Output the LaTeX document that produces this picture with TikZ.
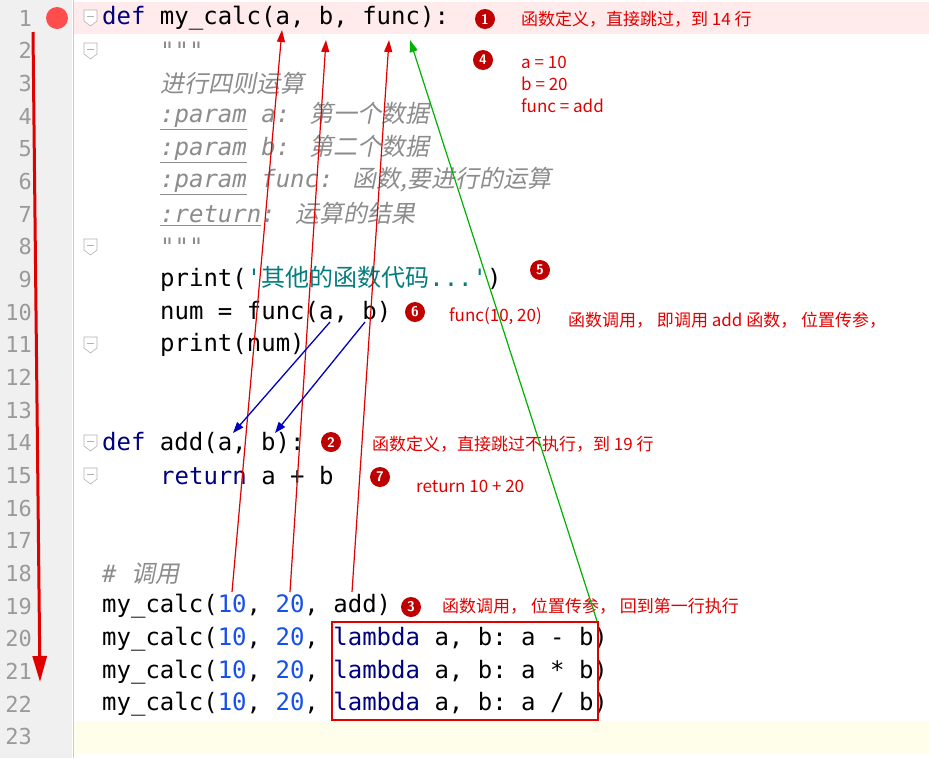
\documentclass[tikz,border=0pt]{standalone}
\usepackage{fontspec}
\setmainfont{Noto Sans CJK SC}
\setmonofont{DejaVu Sans Mono}
\newfontfamily\cjk{Noto Sans CJK SC}
\newfontfamily\cjkit{Noto Sans CJK SC}[FakeSlant=0.2]
\newfontfamily\monoit{DejaVu Sans Mono Oblique}
\usetikzlibrary{arrows.meta}
\definecolor{kw}{HTML}{000080}
\definecolor{num}{HTML}{1750EB}
\definecolor{doc}{HTML}{8C8C8C}
\definecolor{str}{HTML}{067D7D}
\definecolor{ann}{HTML}{E00000}
\definecolor{lnum}{HTML}{9A9A9A}
\newcommand{\K}[1]{\textcolor{kw}{#1}}
\newcommand{\N}[1]{\textcolor{num}{#1}}
\newcommand{\D}[1]{\textcolor{doc}{\monoit #1}}
\newcommand{\DC}[1]{\textcolor{doc}{\cjkit #1}}
\begin{document}
\begin{tikzpicture}[x=1pt,y=-1pt,
  code/.style={anchor=west,inner sep=0,font=\ttfamily\fontsize{24}{24}\selectfont},
  lno/.style={anchor=east,inner sep=0,text=lnum,font=\ttfamily\fontsize{22}{22}\selectfont},
  note/.style={anchor=west,inner sep=0,text=ann,font=\cjk\fontsize{17}{18}\selectfont},
  badge/.style={circle,fill=ann!85!black,text=white,inner sep=0,minimum size=20pt,font=\sffamily\bfseries\fontsize{14}{14}\selectfont},
  rarr/.style={draw=ann,line width=1.2pt,-{Triangle[length=12pt,width=8pt]}},
  garr/.style={draw=green!70!black,line width=1.2pt,-{Triangle[length=12pt,width=8pt]}},
  barr/.style={draw=blue!75!black,line width=1.3pt,-{Triangle[length=11pt,width=8pt]}},
  fold/.style={draw=gray!60,fill=white,line width=0.6pt}]
\useasboundingbox (0,0) rectangle (929,758);
\fill[white] (0,0) rectangle (929,758);
\fill[gray!12] (0,0) rectangle (72,758);
\draw[gray!40,line width=1pt] (73,0) -- (73,758);
\fill[red!8] (74,2) rectangle (929,34);
\fill[yellow!8] (74,721) rectangle (929,753);
% line numbers
\foreach \i in {1,...,23}{ \node[lno] (n\i) at (32,{18+(\i-1)*32.68}) {\i}; }
\fill[red!70!white] (57,18) circle (11);
% fold markers
\foreach \y in {18,51,247,345,443,476}{ \draw[fold] (84,\y-8) -- (97,\y-8) -- (97,\y+3) -- (90.5,\y+8) -- (84,\y+3) -- cycle; \draw[gray!60] (87,\y-2) -- (94,\y-2);}
% code
\node[code] (c1) at (102,18) {\K{def} my\_calc(a, b, func):};
\node[code] (c2) at (160,51) {\D{"""}};
\node[code] (c3) at (160,83) {\DC{进行四则运算}};
\node[code] (c4) at (160,116) {\D{\underline{:param} a: }\DC{第一个数据}};
\node[code] (c5) at (160,149) {\D{\underline{:param} b: }\DC{第二个数据}};
\node[code] (c6) at (160,181) {\D{\underline{:param} func: }\DC{函数,要进行的运算}};
\node[code] (c7) at (160,214) {\D{\underline{:return}: }\DC{运算的结果}};
\node[code] (c8) at (160,247) {\D{"""}};
\node[code] (c9) at (160,279) {print(\textcolor{str}{'{\cjk 其他的函数代码}...'})};
\node[code] (c10) at (160,312) {num = func(a, b)};
\node[code] (c11) at (160,345) {print(num)};
\node[code] (c14) at (102,443) {\K{def} add(a, b):};
\node[code] (c15) at (160,476) {\K{return} a + b};
\node[code] (c18) at (102,574) {\D{\# }\DC{调用}};
\node[code] (c19) at (102,606) {my\_calc(\N{10}, \N{20}, add)};
\node[code] (c20) at (102,639) {my\_calc(\N{10}, \N{20}, \K{lambda} a, b: a - b)};
\node[code] (c21) at (102,672) {my\_calc(\N{10}, \N{20}, \K{lambda} a, b: a * b)};
\node[code] (c22) at (102,704) {my\_calc(\N{10}, \N{20}, \K{lambda} a, b: a / b)};
% box
\draw[ann,line width=2pt] (332,622) rectangle (598,720);
% badges and notes
\node[badge] (b1) at (485,19) {1};
\node[note] (t1) at (521,19) {函数定义，直接跳过，到 14 行};
\node[badge] (b4) at (483,60) {4};
\node[note] (t4a) at (521,62) {a = 10};
\node[note] (t4b) at (521,84) {b = 20};
\node[note] (t4c) at (521,106) {func = add};
\node[badge] (b5) at (540,270) {5};
\node[badge] (b6) at (415,312) {6};
\node[note] (t6a) at (449,316) {func(10, 20)};
\node[note] (t6b) at (568,320) {函数调用， 即调用 add 函数， 位置传参，};
\node[badge] (b2) at (331,442) {2};
\node[note] (t2) at (372,444) {函数定义，直接跳过不执行，到 19 行};
\node[badge] (b7) at (380,477) {7};
\node[note] (t7) at (416,486) {return 10 + 20};
\node[badge] (b3) at (411,607) {3};
\node[note] (t3) at (442,606) {函数调用， 位置传参， 回到第一行执行};
% arrows
\coordinate (s1) at (232,592); \coordinate (e1) at (282,30);
\coordinate (s2) at (290,592); \coordinate (e2) at (326,40);
\coordinate (s3) at (352,592); \coordinate (e3) at (389,40);
\coordinate (sg) at (597,621); \coordinate (eg) at (410,40);
\coordinate (sb1) at (330,322); \coordinate (eb1) at (233,433);
\coordinate (sb2) at (365,322); \coordinate (eb2) at (275,433);
\coordinate (sv) at (33,32); \coordinate (ev) at (40,682);
\draw[rarr] (s1) -- (e1);
\draw[rarr] (s2) -- (e2);
\draw[rarr] (s3) -- (e3);
\draw[garr] (sg) -- (eg);
\draw[barr] (sb1) -- (eb1);
\draw[barr] (sb2) -- (eb2);
\draw[draw=ann,line width=3pt,-{Triangle[length=26pt,width=14pt]}] (sv) -- (ev);
\end{tikzpicture}
\end{document}
